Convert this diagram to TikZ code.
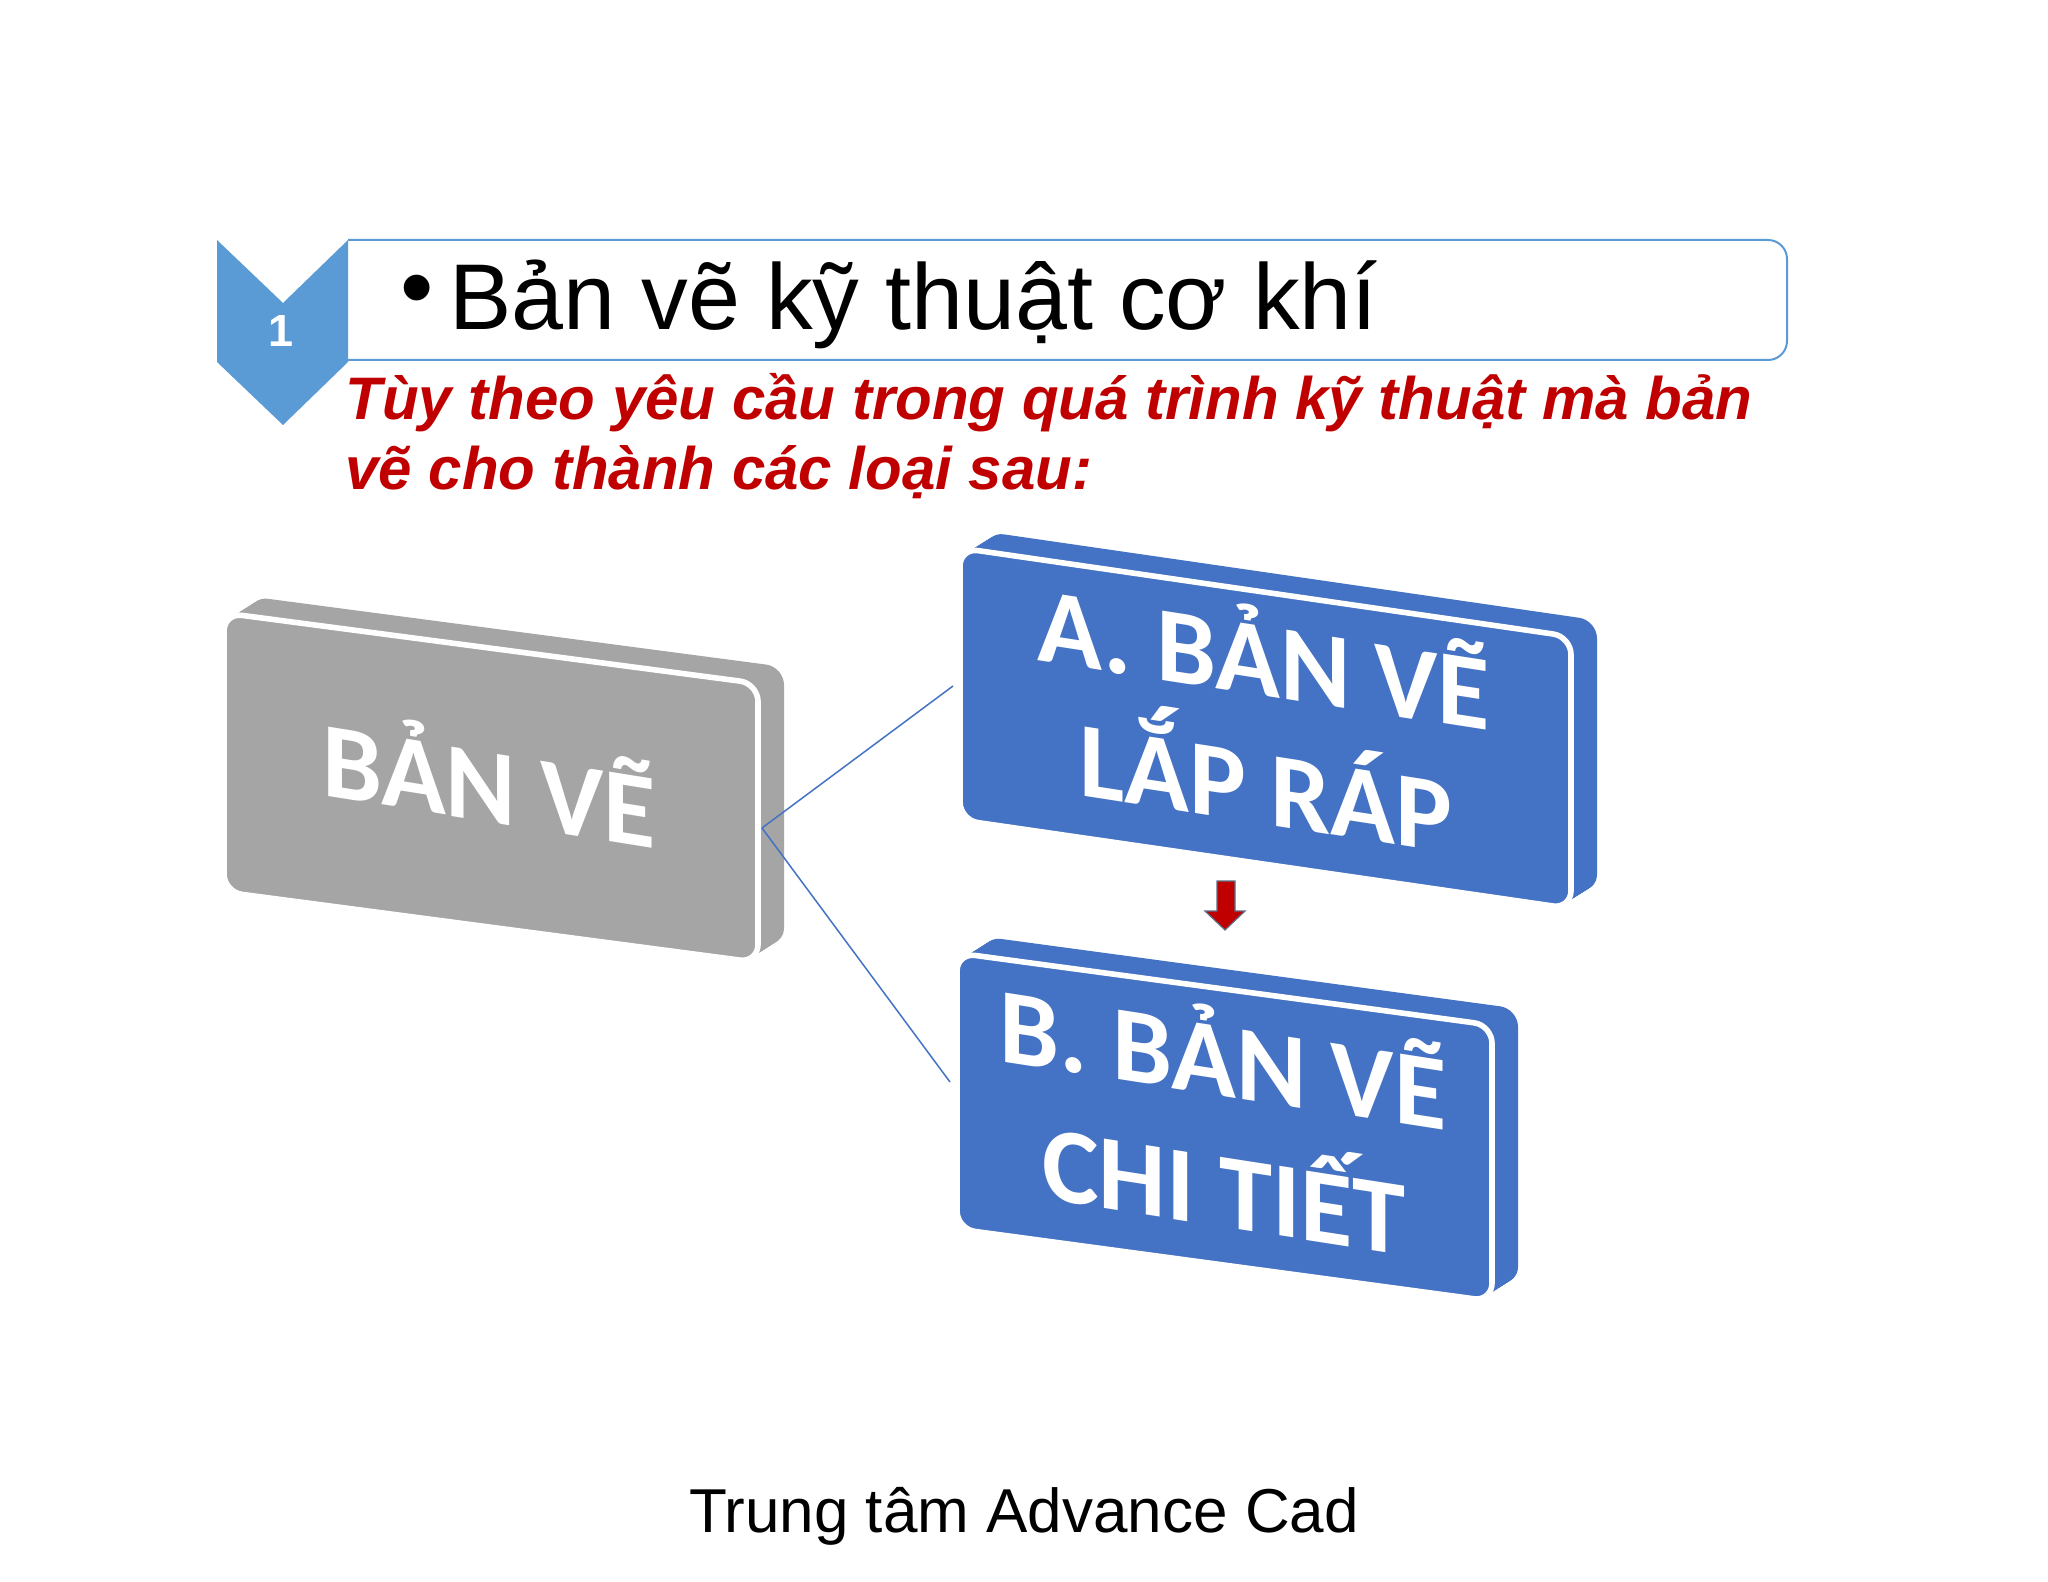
\documentclass[tikz,border=0pt]{standalone}
\usepackage{fontspec}
\setmainfont{Liberation Sans}
\newfontfamily\calib{Carlito}
\definecolor{chevblue}{HTML}{5B9BD5}
\definecolor{boxblue}{HTML}{4472C4}
\definecolor{slabgray}{HTML}{A5A5A5}
\definecolor{darkred}{HTML}{C00000}
\definecolor{arrowedge}{HTML}{5B6E87}
\newcommand\drawslab[6]{%
\begin{scope}[shift={(#1,#2)},yslant=-#5]
\foreach \t in {0,0.04,...,1.001}{\fill[#6,rounded corners=9pt] ({26*\t},{-20*\t}) rectangle ++(#3,#4);}
\filldraw[#6, draw=white, line width=2.8pt, rounded corners=9pt] (0,0) rectangle (#3,#4);
\end{scope}}
\tikzset{
  facetext/.style={text=white, font=\calib\bfseries\fontsize{53.5}{60}\selectfont, inner sep=0pt, transform shape},
  conn/.style={draw=boxblue, line width=0.75pt},
}
\begin{document}
\begin{tikzpicture}[x=0.5pt,y=-0.5pt]
\useasboundingbox (0,0) rectangle (2048,1582);
\fill[white] (0,0) rectangle (2048,1582);
% header
\draw[chevblue, line width=1pt, rounded corners=9.5pt] (348,240) -- (1787,240) -- (1787,360) -- (348,360);
\fill[chevblue] (217,240) -- (283,303) -- (348,240) -- (348,362) -- (283,425) -- (217,362) -- cycle;
\node[text=white, font=\bfseries\fontsize{22.5}{26}\selectfont, inner sep=0pt] (num) at (281,331) {1};
\node[font=\fontsize{47.5}{57}\selectfont, inner sep=0pt] (bul) at (417,297) {•};
\node[font=\fontsize{46.7}{56}\selectfont, inner sep=0pt, anchor=base west] (title) at (449,330) {Bản vẽ kỹ thuật cơ khí};
\node[font=\bfseries\itshape\fontsize{30}{35}\selectfont, text=darkred, inner sep=0pt, anchor=base west] (sub1) at (345,420) {Tùy theo yêu cầu trong quá trình kỹ thuật mà bản};
\node[font=\bfseries\itshape\fontsize{30}{35}\selectfont, text=darkred, inner sep=0pt, anchor=base west] (sub2) at (345,490) {vẽ cho thành các loại sau:};
% slabs
\drawslab{224}{613}{534}{279}{0.132}{slabgray}
\drawslab{960}{548}{611}{272}{0.145}{boxblue}
\drawslab{957}{953}{535}{276}{0.135}{boxblue}
% texts
\begin{scope}[shift={(489,822)},yslant=-0.16]
\node[facetext, anchor=base] (g1) at (0,0) {BẢN VẼ};
\end{scope}
\begin{scope}[shift={(1264,696)},yslant=-0.155]
\node[facetext, anchor=base] (a1) at (0,0) {A. BẢN VẼ};
\node[facetext, anchor=base] (a2) at (2,128) {LẮP RÁP};
\end{scope}
\begin{scope}[shift={(1223,1096)},yslant=-0.155]
\node[facetext, anchor=base] (b1) at (0,0) {B. BẢN VẼ};
\node[facetext, anchor=base] (b2) at (1,131) {CHI TIẾT};
\end{scope}
% connectors
\coordinate (gR) at (762,828);
\coordinate (aL) at (953,686);
\coordinate (bL) at (950,1082);
\draw[conn] (gR) -- (aL);
\draw[conn] (gR) -- (bL);
% red arrow
\filldraw[fill=darkred, draw=arrowedge, line width=0.6pt] (1217,881) -- (1235,881) -- (1235,911) -- (1245,911) -- (1225,930) -- (1205,911) -- (1217,911) -- cycle;
% footer
\node[font=\fontsize{31}{36}\selectfont, inner sep=0pt, anchor=base] (foot) at (1024,1532) {Trung tâm Advance Cad};
\end{tikzpicture}
\end{document}
